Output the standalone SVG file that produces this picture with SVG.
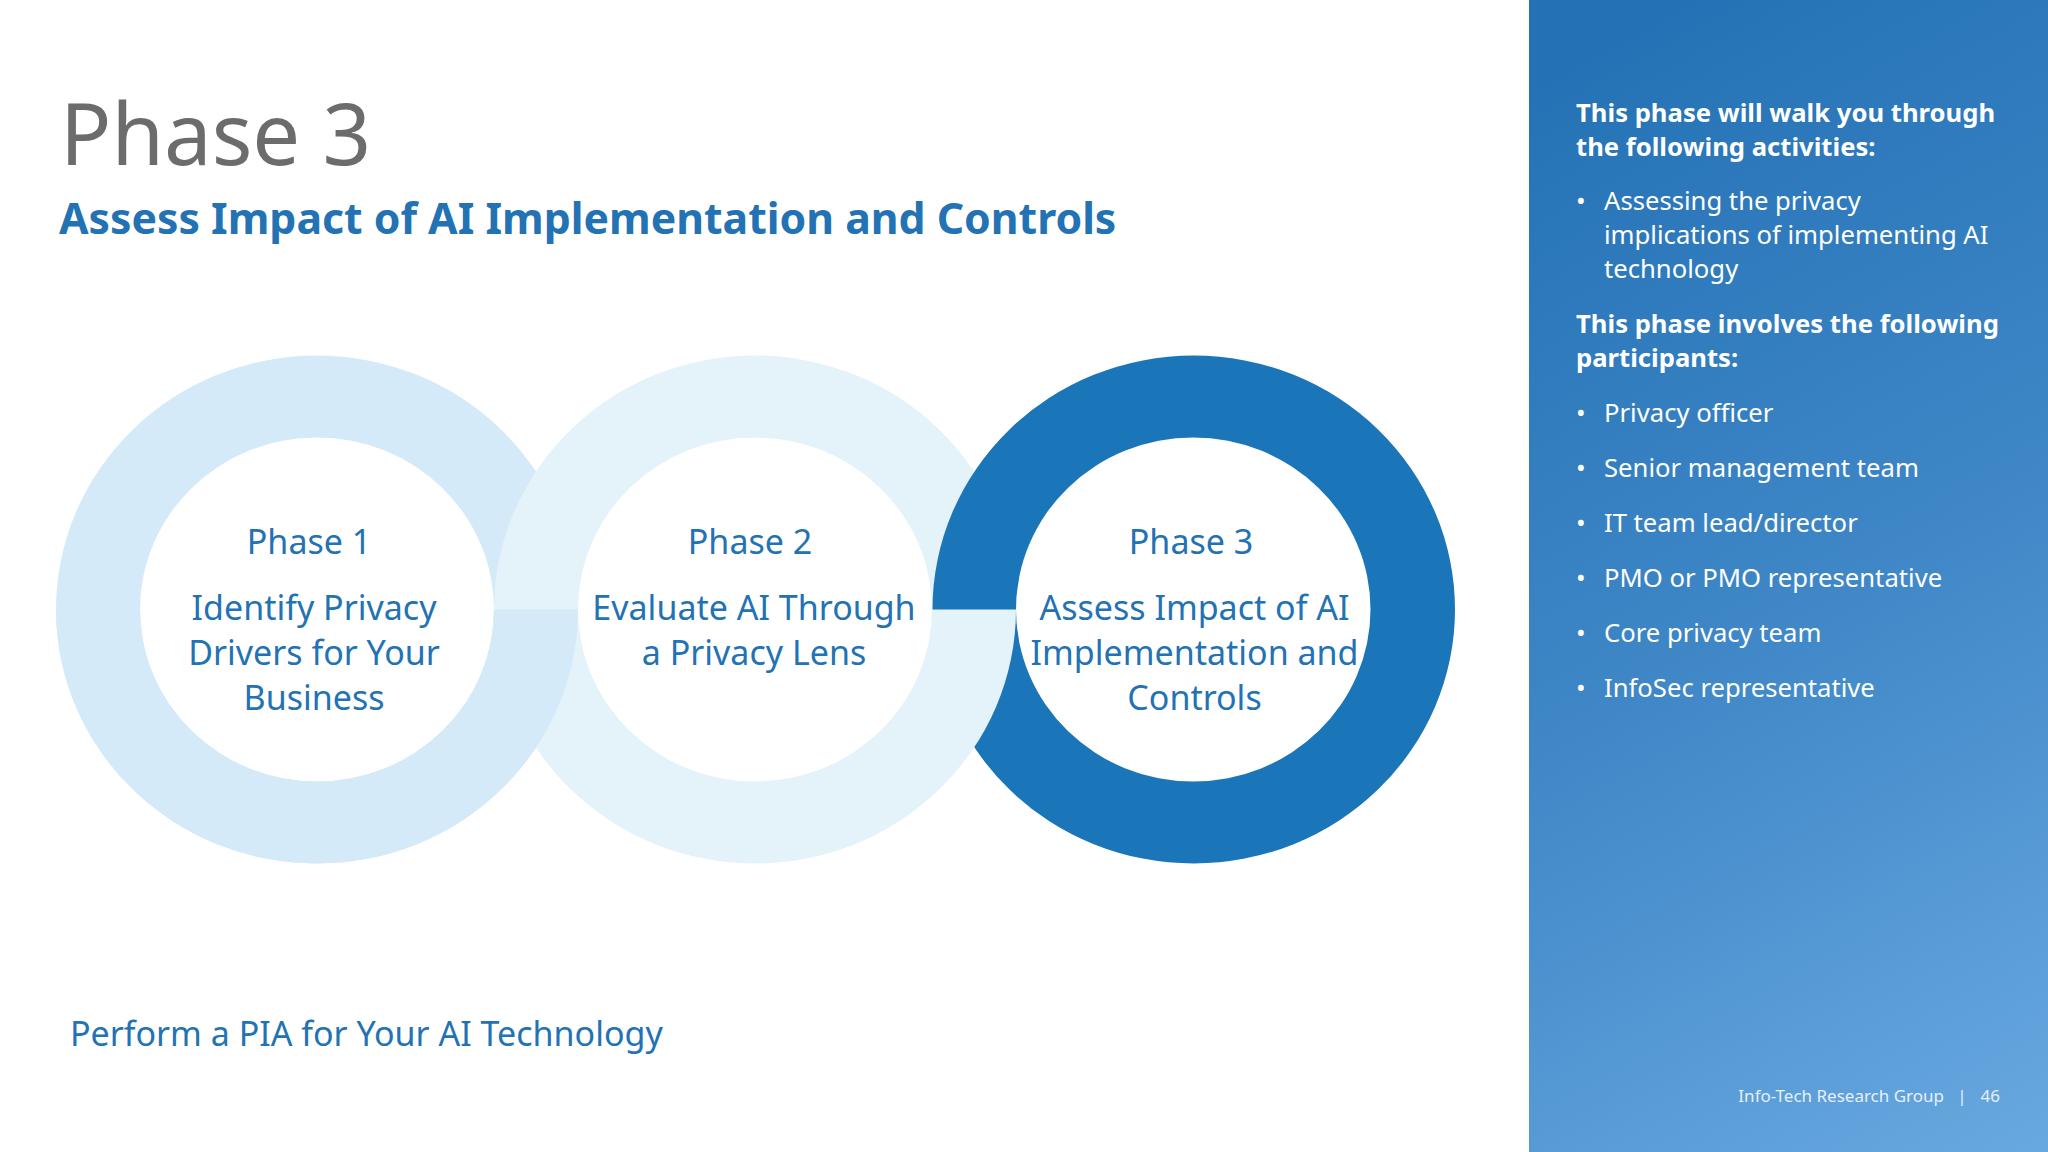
<svg xmlns="http://www.w3.org/2000/svg" width="2048" height="1152" viewBox="0 0 2048 1152">
<style>
text{font-family:"Noto Sans","Open Sans",sans-serif}
.c{font-size:34px;fill:#2272b4;text-anchor:middle}
.s{font-size:25.65px;fill:#fff}
.b{font-weight:700}
.f{font-size:17px;fill:#e6f0fa}
.r1{fill:#d5eaf8}
.r2{fill:#e4f2fa}
.r3{fill:#1b75b9}
</style>
<defs>
<linearGradient id="panel" gradientUnits="userSpaceOnUse" x1="1500" y1="100" x2="2070" y2="1130"><stop offset="0" stop-color="#2472b5"/><stop offset="0.5" stop-color="#3f87c7"/><stop offset="1" stop-color="#68a8e0"/></linearGradient>
</defs>
<rect width="2048" height="1152" fill="#fff"/>
<rect id="sidebar-bg" x="1529" y="0" width="519" height="1152" fill="url(#panel)"/>
<text x="60" y="165" font-size="85" fill="#6c6c6c">Phase 3</text>
<text x="59" y="234" font-size="42.75" font-weight="700" fill="#2272b4">Assess Impact of AI Implementation and Controls</text>
<g id="rings" transform="translate(0 0.5)">
<path id="ring1" class="r1" fill-rule="evenodd" d="M56 609A261 254 0 0 1 578 609A261 254 0 0 1 56 609ZM140 609A177 172 0 0 0 494 609A177 172 0 0 0 140 609Z"/>
<path id="ring2-top" class="r2" d="M494 609A261 254 0 0 1 1016 609H932A177 172 0 0 0 578 609Z"/>
<path id="ring3" class="r3" fill-rule="evenodd" d="M932.500 609A261.250 254 0 0 1 1455 609A261.250 254 0 0 1 932.500 609ZM1016 609A177.250 172 0 0 0 1370.500 609A177.250 172 0 0 0 1016 609Z"/>
<path id="ring2-bottom" class="r2" d="M494 609A261 254 0 0 0 1016 609H932A177 172 0 0 1 578 609Z"/>
<path id="ring1-bottom" class="r1" d="M56 609A261 254 0 0 0 578 609H494A177 172 0 0 1 140 609Z"/>
</g>
<g id="phase-1" class="node">
<text class="c" x="309" y="554">Phase 1</text>
<text class="c" x="314" y="620">Identify Privacy</text>
<text class="c" x="314" y="665">Drivers for Your</text>
<text class="c" x="314" y="710">Business</text>
</g>
<g id="phase-2" class="node">
<text class="c" x="750" y="554">Phase 2</text>
<text class="c" x="754" y="620">Evaluate AI Through</text>
<text class="c" x="754" y="665">a Privacy Lens</text>
</g>
<g id="phase-3" class="node">
<text class="c" x="1191" y="554">Phase 3</text>
<text class="c" x="1194.500" y="620">Assess Impact of AI</text>
<text class="c" x="1194.500" y="665">Implementation and</text>
<text class="c" x="1194.500" y="710">Controls</text>
</g>
<text x="70" y="1046" font-size="34" fill="#2272b4">Perform a PIA for Your AI Technology</text>
<g id="sidebar">
<text class="s b" x="1576" y="122">This phase will walk you through</text>
<text class="s b" x="1576" y="155.500">the following activities:</text>
<text class="s" x="1576" y="210">•</text>
<text class="s" x="1604" y="210">Assessing the privacy</text>
<text class="s" x="1604" y="244">implications of implementing AI</text>
<text class="s" x="1604" y="278">technology</text>
<text class="s b" x="1576" y="332.500">This phase involves the following</text>
<text class="s b" x="1576" y="366.500">participants:</text>
<text class="s" x="1576" y="421.500">•</text><text class="s" x="1604" y="421.500">Privacy officer</text>
<text class="s" x="1576" y="476.500">•</text><text class="s" x="1604" y="476.500">Senior management team</text>
<text class="s" x="1576" y="531.500">•</text><text class="s" x="1604" y="531.500">IT team lead/director</text>
<text class="s" x="1576" y="586.500">•</text><text class="s" x="1604" y="586.500">PMO or PMO representative</text>
<text class="s" x="1576" y="641.500">•</text><text class="s" x="1604" y="641.500">Core privacy team</text>
<text class="s" x="1576" y="696.500">•</text><text class="s" x="1604" y="696.500">InfoSec representative</text>
</g>
<g id="footer">
<text class="f" x="1944" y="1102" text-anchor="end">Info-Tech Research Group</text>
<text class="f" x="1962" y="1102" text-anchor="middle">|</text>
<text class="f" x="2000" y="1102" text-anchor="end">46</text>
</g>
</svg>
